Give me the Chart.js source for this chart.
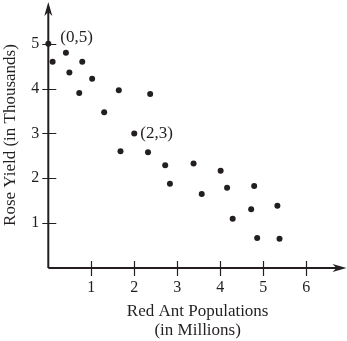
<!DOCTYPE html>
<html>
<head>
<meta charset="utf-8">
<script src="https://cdn.jsdelivr.net/npm/chart.js@4/dist/chart.umd.min.js"></script>
<style>
  html, body { margin: 0; padding: 0; background: #fff; }
  #wrap { width: 347px; height: 341px; position: relative; }
</style>
</head>
<body>
<div id="wrap"><canvas id="c" width="347" height="341"></canvas></div>
<script>
// ---- data ----
const antPopulations = [0, 0.10, 0.41, 0.49, 0.79, 1.02, 0.72, 1.64, 2.37, 1.30, 2.00,
                        1.68, 2.32, 2.72, 2.83, 3.38, 4.01, 3.57, 4.16, 4.79, 4.72,
                        5.33, 4.29, 4.86, 5.38];
const roseYields     = [5, 4.60, 4.80, 4.36, 4.60, 4.22, 3.90, 3.96, 3.88, 3.47, 3.00,
                        2.60, 2.58, 2.29, 1.88, 2.33, 2.17, 1.65, 1.79, 1.83, 1.31,
                        1.39, 1.10, 0.67, 0.65];
const xTickValues = [1, 2, 3, 4, 5, 6];
const yTickValues = [1, 2, 3, 4, 5];
const annotatedX = [0, 2];
const annotatedY = [5, 3];
const annotatedText = ['(0,5)', '(2,3)'];
const xTitle = ['Red Ant Populations', '(in Millions)'];
const yTitle = 'Rose Yield (in Thousands)';

const ink = '#231f20';
const serif = "'Liberation Serif', 'Times New Roman', serif";

const axesPlugin = {
  id: 'axesPlugin',
  afterDatasetsDraw(chart) {
    const ctx = chart.ctx;
    const xs = chart.scales.x, ys = chart.scales.y;
    const x0 = xs.getPixelForValue(0), y0 = ys.getPixelForValue(0);
    const xEnd = chart.chartArea.right - 0.5, yEnd = chart.chartArea.top;
    ctx.save();
    ctx.strokeStyle = ink; ctx.fillStyle = ink;
    // axis lines
    ctx.lineWidth = 2;
    ctx.beginPath();
    ctx.moveTo(x0, y0); ctx.lineTo(xEnd - 8, y0);
    ctx.moveTo(x0, y0); ctx.lineTo(x0, yEnd + 8);
    ctx.stroke();
    // arrowheads
    ctx.beginPath();
    ctx.moveTo(xEnd, y0); ctx.lineTo(xEnd - 14, y0 - 4); ctx.lineTo(xEnd - 10, y0); ctx.lineTo(xEnd - 14, y0 + 4); ctx.closePath();
    ctx.fill();
    ctx.beginPath();
    ctx.moveTo(x0, yEnd); ctx.lineTo(x0 - 4, yEnd + 14); ctx.lineTo(x0, yEnd + 10); ctx.lineTo(x0 + 4, yEnd + 14); ctx.closePath();
    ctx.fill();
    // tick marks crossing the axes
    ctx.lineWidth = 1.2;
    ctx.beginPath();
    xTickValues.forEach(v => { const p = Math.round(xs.getPixelForValue(v)) + 0.5; ctx.moveTo(p, y0 - 7); ctx.lineTo(p, y0 + 8); });
    yTickValues.forEach(v => { const p = Math.round(ys.getPixelForValue(v)) + 0.5; ctx.moveTo(x0 - 6, p); ctx.lineTo(x0 + 8, p); });
    ctx.stroke();
    // point annotations
    ctx.font = "17px " + serif;
    ctx.textBaseline = 'middle';
    ctx.textAlign = 'left';
    const dx = [12, 6], dy = [-6, 0];
    annotatedText.forEach((t, i) => {
      ctx.fillText(t, xs.getPixelForValue(annotatedX[i]) + dx[i], ys.getPixelForValue(annotatedY[i]) + dy[i]);
    });
    ctx.restore();
  }
};

new Chart(document.getElementById('c'), {
  type: 'scatter',
  data: {
    datasets: [{
      data: antPopulations.map((x, i) => ({ x: x, y: roseYields[i] })),
      pointRadius: 3,
      pointHoverRadius: 3,
      pointBackgroundColor: ink,
      pointBorderWidth: 0,
      borderColor: ink,
      clip: false
    }]
  },
  options: {
    responsive: false,
    animation: false,
    devicePixelRatio: 1,
    layout: { autoPadding: false, padding: { top: 2, right: 0, left: 0, bottom: 0 } },
    plugins: { legend: { display: false }, tooltip: { enabled: false } },
    scales: {
      x: {
        type: 'linear', min: 0, max: 6.95,
        afterBuildTicks: s => { s.ticks = xTickValues.map(v => ({ value: v })); },
        afterFit: s => { s.height = 73; s.paddingLeft = 0; s.paddingRight = 0; },
        grid: { display: false, drawTicks: false },
        border: { display: false },
        ticks: { color: ink, font: { family: serif, size: 16 }, padding: 10, maxRotation: 0 },
        title: { display: true, text: xTitle, color: ink, font: { family: serif, size: 17, lineHeight: 1.12 }, padding: { top: 0, bottom: 1 } }
      },
      y: {
        type: 'linear', min: 0, max: 5.93,
        afterBuildTicks: s => { s.ticks = yTickValues.map(v => ({ value: v })); },
        afterFit: s => { s.width = 48.3; s.paddingTop = 0; s.paddingBottom = 0; },
        grid: { display: false, drawTicks: false },
        border: { display: false },
        ticks: { color: ink, font: { family: serif, size: 16 }, padding: 9 },
        title: { display: true, text: yTitle, color: ink, font: { family: serif, size: 17, lineHeight: 1.2 }, padding: { top: 0, bottom: 0 } }
      }
    }
  },
  plugins: [axesPlugin]
});
</script>
</body>
</html>
